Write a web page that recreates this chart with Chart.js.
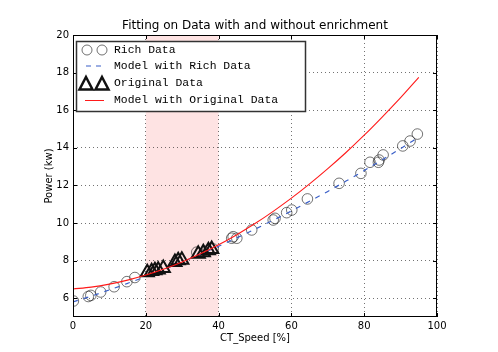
<!DOCTYPE html>
<html>
<head>
<meta charset="utf-8">
<script src="https://cdn.jsdelivr.net/npm/chart.js@4.4.0/dist/chart.umd.min.js"></script>
<style>
  html, body { margin: 0; padding: 0; background: #fff; }
</style>
</head>
<body>
<canvas id="chart" width="498" height="352"></canvas>
<script>
// DATA
const richX = [0.1, 4.2, 4.9, 7.6, 11.3, 14.8, 17.0, 34.0, 37.0, 38.5, 43.6, 44.0, 45.0, 49.1, 55.0, 55.5, 58.7, 60.1, 64.4, 73.1, 79.1, 81.6, 83.9, 84.1, 85.2, 90.6, 92.6, 94.6];
const richY = [5.85, 6.09, 6.15, 6.33, 6.61, 6.88, 7.10, 8.45, 8.52, 8.62, 9.19, 9.27, 9.19, 9.63, 10.16, 10.25, 10.55, 10.69, 11.28, 12.11, 12.64, 13.23, 13.23, 13.35, 13.62, 14.10, 14.36, 14.73];

const origX = [20.4, 21.6, 22.5, 23.4, 24.8, 28.0, 28.9, 29.9, 34.4, 35.8, 37.2, 38.1];
const origY = [7.37, 7.43, 7.48, 7.51, 7.60, 7.92, 8.01, 8.04, 8.36, 8.44, 8.54, 8.61];

const modelX = [0, 5, 10, 15, 20, 25, 30, 35, 40, 45, 50, 55, 60, 65, 70, 75, 80, 85, 90, 95];
const richModelY = [5.80, 6.11, 6.44, 6.79, 7.15, 7.53, 7.92, 8.34, 8.76, 9.21, 9.67, 10.15, 10.64, 11.16, 11.68, 12.23, 12.79, 13.37, 13.96, 14.57];
const origModelY = [6.49, 6.59, 6.75, 6.96, 7.23, 7.55, 7.93, 8.36, 8.84, 9.38, 9.97, 10.62, 11.32, 12.08, 12.89, 13.75, 14.67, 15.65, 16.67, 17.75];

const xTicks = [0, 20, 40, 60, 80, 100];
const yTicks = [6, 8, 10, 12, 14, 16, 18, 20];
const shadeRange = [20, 40];

const legendLabels = ["Rich Data", "Model with Rich Data", "Original Data", "Model with Original Data"];
const titleText = "Fitting on Data with and without enrichment";
const xLabel = "CT_Speed [%]";
const yLabel = "Power (kw)";

const pts = (xs, ys) => xs.map((x, i) => ({ x: x, y: ys[i] }));

const RICH_EDGE = "rgba(40,40,40,0.65)";
const BLUE = "#3a5fc8";
const RED = "#ff1a1a";

// shaded band behind the grid
const shadePlugin = {
    id: "shade",
    beforeDraw(chart) {
        const { ctx, chartArea, scales } = chart;
        const x0 = scales.x.getPixelForValue(shadeRange[0]);
        const x1 = scales.x.getPixelForValue(shadeRange[1]);
        ctx.save();
        ctx.fillStyle = "rgba(245,0,0,0.11)";
        ctx.fillRect(x0, chartArea.top, x1 - x0, chartArea.bottom - chartArea.top);
        ctx.restore();
    }
};

// frame, inward ticks, title, legend
const framePlugin = {
    id: "frame",
    afterDraw(chart) {
        const { ctx, chartArea: a, scales } = chart;
        ctx.save();
        ctx.strokeStyle = "#000";
        ctx.lineWidth = 1;
        ctx.strokeRect(Math.round(a.left) + 0.5, Math.round(a.top) + 0.5,
            Math.round(a.right - a.left) - 1, Math.round(a.bottom - a.top) - 1);

        ctx.beginPath();
        xTicks.forEach(v => {
            const px = Math.round(scales.x.getPixelForValue(v)) + 0.5;
            ctx.moveTo(px, a.bottom); ctx.lineTo(px, a.bottom - 4);
            ctx.moveTo(px, a.top); ctx.lineTo(px, a.top + 4);
        });
        yTicks.forEach(v => {
            const py = Math.round(scales.y.getPixelForValue(v)) + 0.5;
            ctx.moveTo(a.left, py); ctx.lineTo(a.left + 4, py);
            ctx.moveTo(a.right, py); ctx.lineTo(a.right - 4, py);
        });
        ctx.stroke();

        // title centred over the plot
        ctx.fillStyle = "#000";
        ctx.font = "12px 'DejaVu Sans', sans-serif";
        ctx.textAlign = "center";
        ctx.textBaseline = "middle";
        ctx.fillText(titleText, (a.left + a.right) / 2, a.top - 9);

        // legend
        const bx = a.left + 3, by = a.top + 6, bw = 229, bh = 70;
        ctx.fillStyle = "#fff";
        ctx.fillRect(bx, by, bw, bh);
        ctx.strokeStyle = "#333";
        ctx.lineWidth = 1.5;
        ctx.strokeRect(bx + 0.5, by + 0.5, bw, bh);

        const rows = [by + 9, by + 25, by + 42, by + 59];
        const m1 = bx + 11, m2 = bx + 26;

        // rich data circles
        ctx.strokeStyle = RICH_EDGE;
        ctx.lineWidth = 1;
        [m1, m2].forEach(cx => {
            ctx.beginPath();
            ctx.arc(cx, rows[0], 5, 0, Math.PI * 2);
            ctx.stroke();
        });
        // rich model dashes
        ctx.strokeStyle = BLUE;
        ctx.lineWidth = 1.2;
        ctx.setLineDash([5, 5]);
        ctx.beginPath();
        ctx.moveTo(m1 - 1, rows[1]); ctx.lineTo(m2 + 1, rows[1]);
        ctx.stroke();
        ctx.setLineDash([]);
        // original data triangles
        ctx.strokeStyle = "#111";
        ctx.lineWidth = 2.5;
        ctx.lineJoin = "miter";
        [m1 - 1, m2].forEach(cx => {
            ctx.beginPath();
            ctx.moveTo(cx, rows[2] - 6);
            ctx.lineTo(cx + 6.5, rows[2] + 6.5);
            ctx.lineTo(cx - 6.5, rows[2] + 6.5);
            ctx.closePath();
            ctx.stroke();
        });
        // original model line
        ctx.strokeStyle = RED;
        ctx.lineWidth = 1;
        ctx.beginPath();
        ctx.moveTo(m1 - 2, rows[3] + 0.5); ctx.lineTo(m2 + 2, rows[3] + 0.5);
        ctx.stroke();

        ctx.fillStyle = "#000";
        ctx.font = "11.4px 'Liberation Mono', 'DejaVu Sans Mono', monospace";
        ctx.textAlign = "left";
        legendLabels.forEach((t, i) => ctx.fillText(t, bx + 38, rows[i]));
        ctx.restore();
    }
};

const tickFont = { family: "'DejaVu Sans', sans-serif", size: 10 };

new Chart(document.getElementById("chart"), {
    type: "scatter",
    data: {
        datasets: [
            {
                label: legendLabels[0],
                data: pts(richX, richY),
                pointStyle: "circle",
                pointRadius: 5.3,
                pointBorderWidth: 1,
                pointBorderColor: RICH_EDGE,
                pointBackgroundColor: "rgba(0,0,0,0)",
                clip: 0,
                order: 4
            },
            {
                label: legendLabels[1],
                data: pts(modelX, richModelY),
                showLine: true,
                borderColor: BLUE,
                borderWidth: 1.2,
                borderDash: [5, 6],
                pointRadius: 0,
                cubicInterpolationMode: "monotone",
                clip: 0,
                order: 3
            },
            {
                label: legendLabels[2],
                data: pts(origX, origY),
                pointStyle: "triangle",
                pointRadius: 7.6,
                pointBorderWidth: 2,
                pointBorderColor: "#111",
                pointBackgroundColor: "rgba(0,0,0,0)",
                clip: 0,
                order: 2
            },
            {
                label: legendLabels[3],
                data: pts(modelX, origModelY),
                showLine: true,
                borderColor: RED,
                borderWidth: 1.1,
                pointRadius: 0,
                cubicInterpolationMode: "monotone",
                clip: 0,
                order: 1
            }
        ]
    },
    options: {
        responsive: false,
        animation: false,
        layout: { padding: { top: 35, right: 61, bottom: 0, left: 0 } },
        plugins: {
            legend: { display: false },
            tooltip: { enabled: false },
            title: { display: false }
        },
        scales: {
            x: {
                type: "linear",
                min: 0,
                max: 100,
                afterBuildTicks: s => { s.ticks = xTicks.map(v => ({ value: v })); },
                afterFit: s => { s.height = 35; },
                grid: { color: "rgba(0,0,0,0.55)", lineWidth: 1, drawTicks: false },
                border: { display: false, dash: [1, 3] },
                ticks: { color: "#000", font: tickFont, padding: 3, maxRotation: 0 },
                title: { display: true, text: xLabel, color: "#000", font: tickFont, padding: { top: 0, bottom: 8 } }
            },
            y: {
                type: "linear",
                min: 5,
                max: 20,
                afterBuildTicks: s => { s.ticks = yTicks.map(v => ({ value: v })); },
                afterFit: s => { s.width = 73; },
                grid: { color: "rgba(0,0,0,0.55)", lineWidth: 1, drawTicks: false },
                border: { display: false, dash: [1, 3] },
                ticks: { color: "#000", font: tickFont, padding: 4 },
                title: { display: true, text: yLabel, color: "#000", font: tickFont, padding: { top: 43, bottom: 0 } }
            }
        }
    },
    plugins: [shadePlugin, framePlugin]
});
</script>
</body>
</html>
